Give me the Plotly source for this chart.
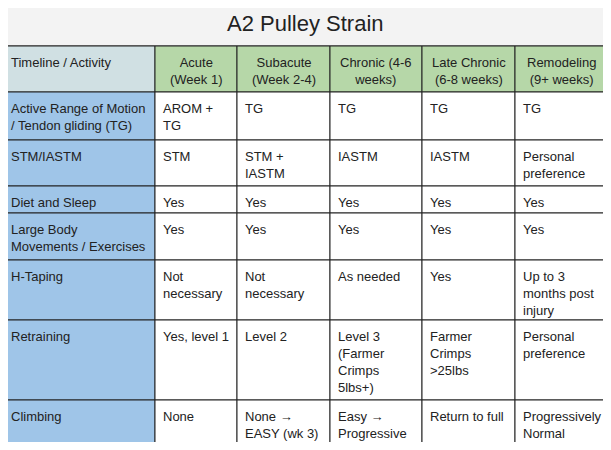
import plotly.graph_objects as go

title = "A2 Pulley Strain"
columns = ["Timeline / Activity", "Acute<br>(Week 1)", "Subacute<br>(Week 2-4)",
           "Chronic (4-6<br>weeks)", "Late Chronic<br>(6-8 weeks)", "Remodeling<br>(9+ weeks)"]
activities = ["Active Range of Motion<br>/ Tendon gliding (TG)", "STM/IASTM", "Diet and Sleep",
              "Large Body<br>Movements / Exercises", "H-Taping", "Retraining", "Climbing"]
cells = [
    ["AROM +<br>TG", "TG", "TG", "TG", "TG"],
    ["STM", "STM +<br>IASTM", "IASTM", "IASTM", "Personal<br>preference"],
    ["Yes", "Yes", "Yes", "Yes", "Yes"],
    ["Yes", "Yes", "Yes", "Yes", "Yes"],
    ["Not<br>necessary", "Not<br>necessary", "As needed", "Yes", "Up to 3<br>months post<br>injury"],
    ["Yes, level 1", "Level 2", "Level 3<br>(Farmer<br>Crimps<br>5lbs+)", "Farmer<br>Crimps<br>>25lbs", "Personal<br>preference"],
    ["None", "None \u2192<br>EASY (wk 3)", "Easy \u2192<br>Progressive", "Return to full", "Progressively<br>Normal"],
]

# grid geometry (page pixels)
col_x = [3, 155, 237, 330, 422, 515, 608]
row_y = [3, 46, 92, 140, 186, 213, 260, 320, 400, 447]

# page body has an 8px margin, so the figure starts at (8, 8)
PAD = 8
FONT = "Liberation Sans, Arial, sans-serif"
fig = go.Figure()
shapes, annots = [], []

def rect(x0, x1, y0, y1, color):
    shapes.append(dict(type="rect", x0=x0, x1=x1, y0=y0, y1=y1, fillcolor=color,
                       line=dict(color="#222", width=1), layer="below"))

def text(x, y, s, size=13, align="left", xanchor="left"):
    annots.append(dict(x=x, y=y, text=s, showarrow=False, xanchor=xanchor, yanchor="top",
                       align=align, font=dict(family=FONT, size=size, color="#222")))

rect(col_x[0], col_x[-1], row_y[0], row_y[1], "#f3f3f3")
text((col_x[0] + col_x[-1]) / 2, row_y[0] + 6, title, size=22, align="center", xanchor="center")

for j, c in enumerate(columns):
    x0, x1 = col_x[j], col_x[j + 1]
    rect(x0, x1, row_y[1], row_y[2], "#d0e0e3" if j == 0 else "#b6d7a8")
    if j == 0:
        text(x0 + 6, row_y[1] + 7, c)
    else:
        text((x0 + x1) / 2, row_y[1] + 7, c, align="center", xanchor="center")

for i, a in enumerate(activities):
    y0, y1 = row_y[i + 2], row_y[i + 3]
    rect(col_x[0], col_x[1], y0, y1, "#9fc5e8")
    text(col_x[0] + 6, y0 + 7, a)
    for j, v in enumerate(cells[i]):
        rect(col_x[j + 1], col_x[j + 2], y0, y1, "white")
        text(col_x[j + 1] + 6, y0 + 7, v)

W, H = 611, 450
fig.update_layout(
    width=W - 2 * PAD, height=H - 2 * PAD, margin=dict(l=0, r=0, t=0, b=0),
    paper_bgcolor="white", plot_bgcolor="white",
    xaxis=dict(range=[PAD, W - PAD], visible=False, fixedrange=True),
    yaxis=dict(range=[H - PAD, PAD], visible=False, fixedrange=True),
    shapes=shapes, annotations=annots, showlegend=False,
)
fig.write_html("out.html")
